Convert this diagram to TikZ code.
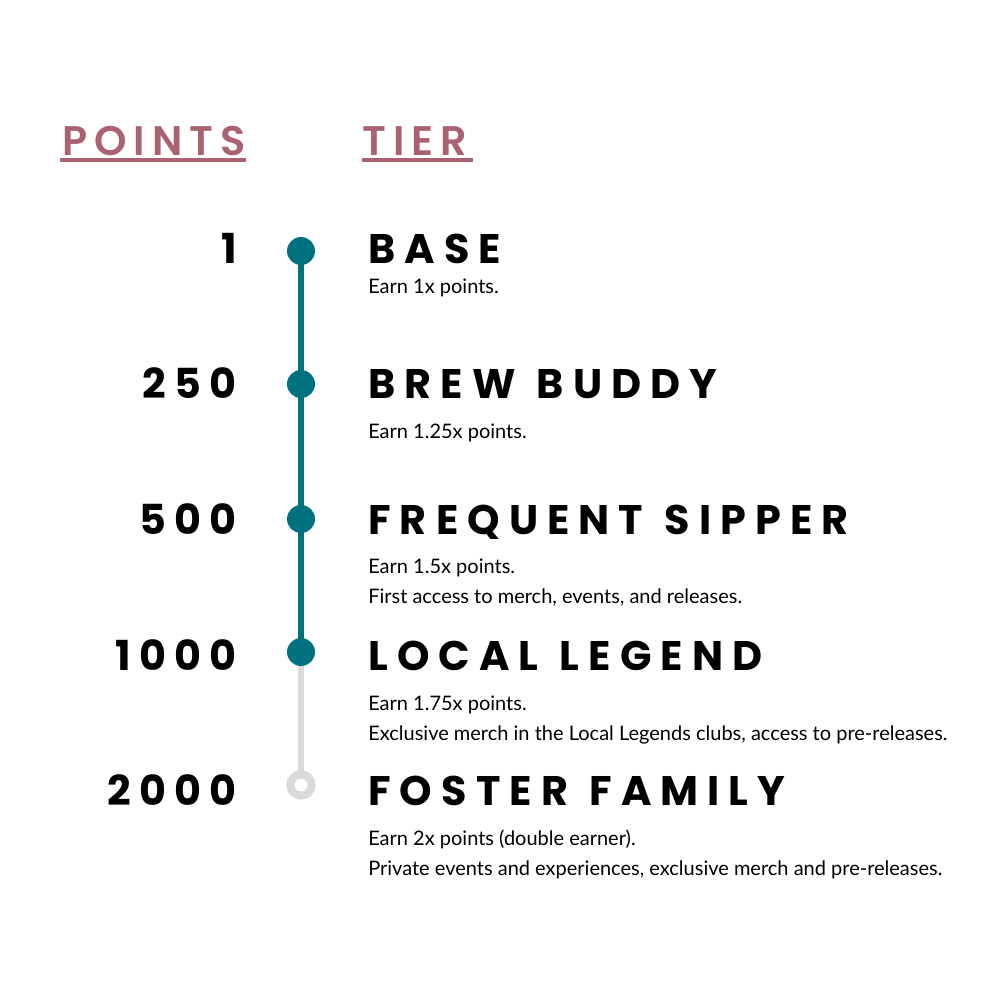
\documentclass[tikz,border=0pt]{standalone}
\usepackage{fontspec}
\usepackage{tikz}
\usetikzlibrary{calc}
\usetikzlibrary{positioning}
\newfontfamily\colfont[LetterSpace=17]{Poppins SemiBold}
\newfontfamily\headfont[LetterSpace=22,WordSpace=1.2]{Poppins Bold}
\newfontfamily\numfont[LetterSpace=20]{Poppins Bold}
\newfontfamily\bodyfont{Lato}
\definecolor{tealdot}{HTML}{00717F}
\definecolor{rosehead}{HTML}{AA6271}
\definecolor{greyline}{HTML}{DADADA}

\begin{document}
\begin{tikzpicture}[x=0.75pt,y=-0.75pt]
\tikzstyle{colhead}=[anchor=base west,inner sep=0pt,text=rosehead,font=\colfont\fontsize{31}{31}\selectfont]
\tikzstyle{pts}=[anchor=base east,inner sep=0pt,font=\numfont\fontsize{31}{31}\selectfont]
\tikzstyle{tier}=[anchor=base west,inner sep=0pt,font=\headfont\fontsize{31}{31}\selectfont]
\tikzstyle{desc}=[anchor=base west,inner sep=0pt,align=left,font=\bodyfont\fontsize{15}{22.5}\selectfont]
\tikzstyle{dot}=[circle,fill=tealdot,minimum size=21pt,inner sep=0pt]
\tikzstyle{ring}=[circle,draw=greyline,line width=6pt,minimum size=16pt,inner sep=0pt]
\useasboundingbox (0,0) rectangle (1000,1000);
% column heads
\node[colhead] at (62,155) (hpts) {POINTS};
\node[colhead] at (362,155) (htier) {TIER};
\draw[rosehead,line width=2.6pt] ($(hpts.base west)+(-2,5)$) -- ($(hpts.base east)+(0,5)$);
\draw[rosehead,line width=2.6pt] ($(htier.base west)+(0,5)$) -- ($(htier.base east)+(6,5)$);
% timeline
\coordinate (d1) at (301,251);
\coordinate (d2) at (301,384);
\coordinate (d3) at (301,519);
\coordinate (d4) at (301,652);
\coordinate (d5) at (301,785);
\draw[greyline,line width=5.2pt] (d4) -- (d5);
\draw[tealdot,line width=5.2pt] (d1) -- (d4);
\node[dot] at (d1) {};
\node[dot] at (d2) {};
\node[dot] at (d3) {};
\node[dot] at (d4) {};
\node[ring,fill=white] at (d5) {};
% points
\node[pts] at (237,263) (p1) {1};
\node[pts] at (237,398) (p2) {250};
\node[pts] at (237,534) (p3) {500};
\node[pts] at (237,670) (p4) {1000};
\node[pts] at (237,805) (p5) {2000};
% tiers
\node[tier] at (368,263) (t1) {BASE};
\node[tier] at (368,398) (t2) {BREW BUDDY};
\node[tier] at (368,534) (t3) {FREQUENT SIPPER};
\node[tier] at (368,670) (t4) {LOCAL LEGEND};
\node[tier] at (368,805) (t5) {FOSTER FAMILY};
% descriptions (base = last line)
\node[desc] at (368,293) (e1) {Earn 1x points.};
\node[desc] at (368,438) (e2) {Earn 1.25x points.};
\node[desc] at (368,603) (e3) {Earn 1.5x points.\\First access to merch, events, and releases.};
\node[desc] at (368,740) (e4) {Earn 1.75x points.\\Exclusive merch in the Local Legends clubs, access to pre-releases.};
\node[desc] at (368,875) (e5) {Earn 2x points (double earner).\\Private events and experiences, exclusive merch and pre-releases.};
\end{tikzpicture}
\end{document}
